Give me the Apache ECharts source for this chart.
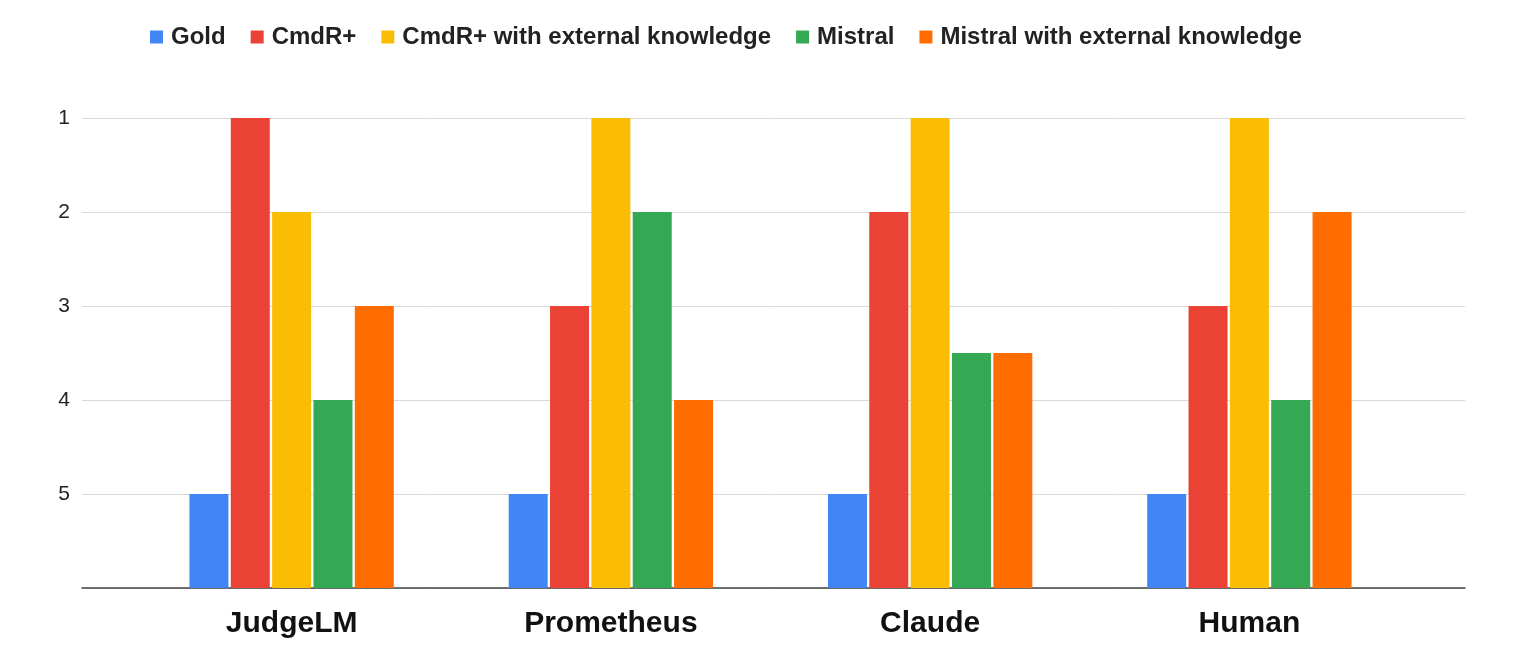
<!DOCTYPE html>
<html>
<head>
<meta charset="utf-8">
<script src="https://cdn.jsdelivr.net/npm/echarts@6/dist/echarts.min.js"></script>
<style>
html,body{margin:0;padding:0;background:#fff;}
#chart{width:1513px;height:669px;}
</style>
</head>
<body>
<div id="chart"></div>
<script>
const categories = ['JudgeLM', 'Prometheus', 'Claude', 'Human'];
const seriesNames = ['Gold', 'CmdR+', 'CmdR+ with external knowledge', 'Mistral', 'Mistral with external knowledge'];
const gold = [5, 5, 5, 5];
const cmdr = [1, 3, 2, 3];
const cmdrExt = [2, 1, 1, 1];
const mistral = [4, 2, 3.5, 4];
const mistralExt = [3, 4, 3.5, 2];
const rankTicks = [1, 2, 3, 4, 5];
const colors = ['#4285F4', '#EA4335', '#FBBC04', '#34A853', '#FF6D01'];

const BASE = 6; // bottom of the axis (rank 6)
const toHeight = r => BASE - r;
const allData = [gold, cmdr, cmdrExt, mistral, mistralExt];

const font = 'Liberation Sans, Arial, sans-serif';
const chart = echarts.init(document.getElementById('chart'));
chart.setOption({
  animation: false,
  color: colors,
  legend: {
    top: 20,
    left: 145,
    itemWidth: 13,
    itemHeight: 13,
    itemGap: 25,
    icon: 'rect',
    textStyle: { fontFamily: font, fontSize: 24, fontWeight: 'bold', color: '#222', padding: [0, 0, 0, 3] },
    data: seriesNames
  },
  grid: [
    { left: 82, right: 48, top: 118, bottom: 81 },
    { left: 132, right: 104, top: 118, bottom: 81 }
  ],
  xAxis: [
    { type: 'category', gridIndex: 0, data: [''], axisLine: { show: true, lineStyle: { color: '#444', width: 1.5 } },
      axisTick: { show: false }, axisLabel: { show: false } },
    { type: 'category', gridIndex: 1, data: categories, axisLine: { show: false }, axisTick: { show: false },
      axisLabel: { fontFamily: font, fontSize: 30, fontWeight: 'bold', color: '#111', margin: 21 } }
  ],
  yAxis: [
    { type: 'value', gridIndex: 0, min: 0, max: BASE - rankTicks[0], interval: 1,
      axisLine: { show: false }, axisTick: { show: false },
      splitLine: { lineStyle: { color: '#d9d9d9', width: 1 } },
      axisLabel: { fontFamily: font, fontSize: 21, color: '#222', margin: 12,
        formatter: v => (v === 0 ? '' : String(BASE - v)) } },
    { type: 'value', gridIndex: 1, min: 0, max: BASE - rankTicks[0], interval: 1,
      show: false, splitLine: { show: false } }
  ],
  series: seriesNames.map((name, i) => ({
    name,
    type: 'bar',
    xAxisIndex: 1,
    yAxisIndex: 1,
    barWidth: 39,
    barGap: '6%',
    data: allData[i].map(toHeight)
  }))
});
</script>
</body>
</html>
